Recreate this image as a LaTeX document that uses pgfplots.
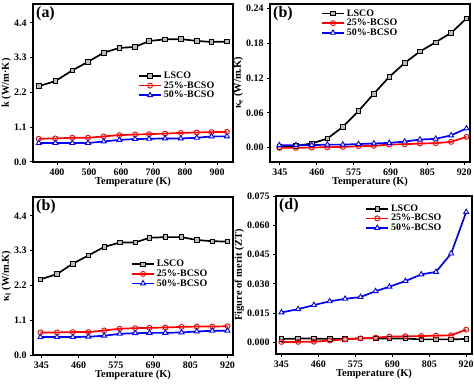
\documentclass[border=0pt]{standalone}
\usepackage{pgfplots}
\pgfplotsset{compat=1.18}
\usepackage{fontspec}
\setmainfont{Liberation Serif}
\begin{document}
\begin{tikzpicture}
\useasboundingbox (0bp,0bp) rectangle (474bp,384bp);
\tikzset{plab/.style={anchor=north west,font=\bfseries\fontsize{16}{17}\selectfont,inner sep=1pt}}
\pgfplotsset{
  every axis/.append style={
    scale only axis, width=200bp, height=158bp,
    axis line style={line width=1.3pt},
    tick align=outside, tick pos=left,
    major tick length=3pt,
    every tick/.style={line width=1pt,black},
    font=\bfseries\fontsize{10}{11}\selectfont,
    tick label style={font=\bfseries\fontsize{10}{11}\selectfont},
    /pgf/number format/assume math mode=true,
    scaled y ticks=false,
    label style={font=\bfseries\fontsize{10.5}{12}\selectfont},
    xlabel={Temperature (K)},
    xlabel style={yshift=5pt},
    ylabel style={yshift=-4pt},
    legend style={draw=none,fill=none,font=\bfseries\fontsize{10}{11}\selectfont,row sep=-2.5pt, inner sep=1pt},
    legend cell align=left,
    legend image code/.code={\draw[mark repeat=2,mark phase=2] plot coordinates {(0bp,0bp)(11bp,0bp)(22bp,0bp)};},
  },
  ls/.style={black,line width=1.7pt,mark=square*,mark size=2.3pt,mark options={fill=gray!55,draw=black,line width=0.8pt}},
  r25/.style={red,line width=1.7pt,mark=o,mark size=2.5pt,mark options={fill=white,draw=red,line width=0.9pt}},
  b50/.style={blue,line width=1.7pt,mark=triangle*,mark size=2.9pt,mark options={fill=white,draw=blue,line width=0.9pt}},
  prec/.style={yticklabel style={/pgf/number format/fixed,/pgf/number format/fixed zerofill,/pgf/number format/precision=#1}},
}
% (a)
\begin{axis}[at={(33bp,222bp)}, anchor=south west,
  xmin=325, xmax=950, ymin=0, ymax=5.0,
  xtick={400,500,...,900}, ytick={0,1.1,2.2,3.3,4.4},
  prec=1,
  ylabel={k (W/m·K)},
  legend style={at={(0.52,0.59)},anchor=north west}]
\addplot[ls] coordinates {(343,2.40)(395,2.56)(448,2.90)(497,3.17)(546,3.46)(595,3.61)(644,3.64)(688,3.83)(738,3.88)(787,3.89)(837,3.83)(883,3.80)(931,3.81)};
\addplot[r25] coordinates {(343,0.735)(395,0.746)(448,0.767)(497,0.767)(546,0.81)(595,0.85)(644,0.87)(688,0.88)(738,0.90)(787,0.92)(837,0.935)(883,0.945)(931,0.955)};
\addplot[b50] coordinates {(343,0.60)(395,0.60)(448,0.60)(497,0.60)(546,0.65)(595,0.70)(644,0.725)(688,0.735)(738,0.745)(787,0.745)(837,0.767)(883,0.81)(931,0.81)};
\legend{LSCO,25\%-BCSO,50\%-BCSO}
\node[plab] at (rel axis cs:0.01,0.995) {(a)};
\end{axis}
% (b)
\begin{axis}[at={(270bp,222bp)}, anchor=south west,
  xmin=314, xmax=938, ymin=-0.025, ymax=0.248,
  xtick={345,460,575,690,805,920}, ytick={0,0.06,0.12,0.18,0.24},
  prec=2,
  ylabel={κ\textsubscript{e} (W/m.K)},
  legend style={at={(0.25,0.985)},anchor=north west}]
\addplot[ls] coordinates {(343,0.0011)(395,0.0029)(444,0.0069)(493,0.0155)(541,0.0356)(590,0.063)(638,0.093)(686,0.122)(734,0.146)(782,0.166)(831,0.182)(879,0.198)(927,0.223)};
\addplot[r25] coordinates {(343,-0.0006)(395,-0.0006)(444,0)(493,0.0006)(541,0.0011)(590,0.0023)(638,0.0029)(686,0.0052)(734,0.0057)(782,0.0069)(831,0.0075)(879,0.0098)(927,0.0184)};
\addplot[b50] coordinates {(343,0.004)(395,0.004)(444,0.004)(493,0.005)(541,0.005)(590,0.006)(638,0.007)(686,0.008)(734,0.0103)(782,0.0138)(831,0.015)(879,0.021)(927,0.033)};
\legend{LSCO,25\%-BCSO,50\%-BCSO}
\node[plab] at (rel axis cs:0.01,0.995) {(b)};
\end{axis}
% (c)
\begin{axis}[at={(33bp,29bp)}, anchor=south west,
  xmin=319, xmax=937, ymin=0, ymax=5.0,
  xtick={345,460,575,690,805,920}, ytick={0,1.1,2.2,3.3,4.4},
  prec=1,
  ylabel={κ\textsubscript{l} (W/m.K)},
  legend style={at={(0.485,0.62)},anchor=north west}]
\addplot[ls] coordinates {(342,2.395)(393,2.56)(442,2.89)(490,3.15)(539,3.42)(587,3.56)(635,3.56)(679,3.71)(728,3.73)(778,3.73)(825,3.64)(873,3.60)(920,3.59)};
\addplot[r25] coordinates {(342,0.714)(393,0.714)(442,0.725)(490,0.725)(539,0.777)(587,0.83)(635,0.85)(679,0.86)(728,0.87)(778,0.89)(825,0.90)(873,0.90)(920,0.91)};
\addplot[b50] coordinates {(342,0.567)(393,0.567)(442,0.567)(490,0.578)(539,0.61)(587,0.67)(635,0.69)(679,0.70)(728,0.70)(778,0.714)(825,0.745)(873,0.767)(920,0.767)};
\legend{LSCO,25\%-BCSO,50\%-BCSO}
\node[plab] at (rel axis cs:0.01,0.995) {(b)};
\end{axis}
% (d)
\begin{axis}[at={(276bp,30bp)}, anchor=south west, width=196bp,
  xmin=328, xmax=938, ymin=-0.006, ymax=0.075,
  xtick={345,460,575,690,805,920}, ytick={0,0.015,0.03,0.045,0.06,0.075},
  prec=3,
  ylabel={Figure of merit (ZT)},
  legend style={at={(0.45,0.965)},anchor=north west}]
\addplot[ls] coordinates {(345,0.0017)(397,0.0019)(446,0.0019)(495,0.0017)(543,0.0017)(591,0.002)(638,0.002)(681,0.0019)(731,0.0019)(780,0.0015)(826,0.0015)(873,0.0015)(920,0.0017)};
\addplot[r25] coordinates {(345,0.0002)(397,0.0002)(446,0.0003)(495,0.0009)(543,0.0015)(591,0.002)(638,0.0024)(681,0.0029)(731,0.0031)(780,0.0032)(826,0.0034)(873,0.0036)(920,0.0065)};
\addplot[b50] coordinates {(345,0.0153)(397,0.0170)(446,0.0191)(495,0.0210)(543,0.0223)(591,0.0232)(638,0.0262)(681,0.0285)(731,0.0314)(780,0.0348)(826,0.0361)(873,0.0455)(920,0.0668)};
\legend{LSCO,25\%-BCSO,50\%-BCSO}
\node[plab] at (rel axis cs:0.01,0.995) {(d)};
\end{axis}
\end{tikzpicture}
\end{document}
